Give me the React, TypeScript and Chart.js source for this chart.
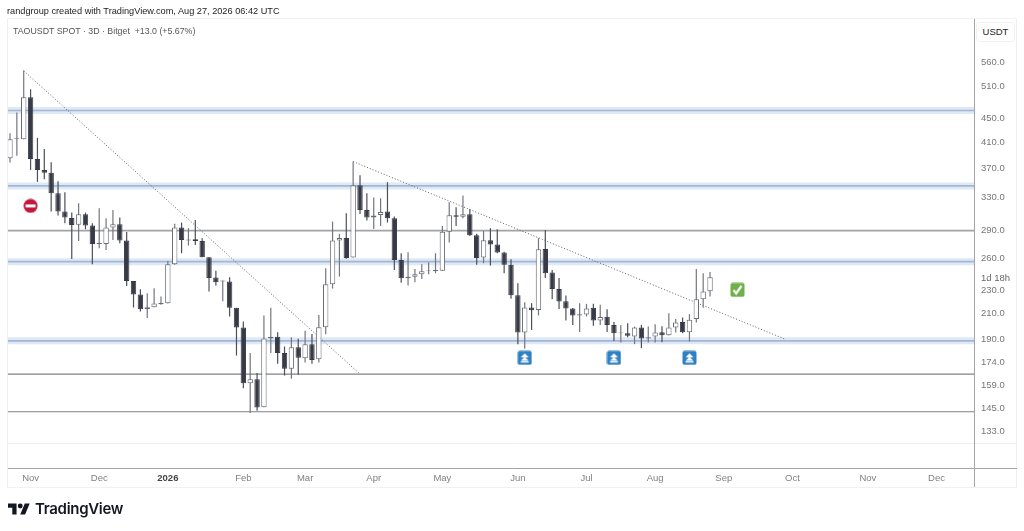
import React, { useEffect, useRef } from "react";
import { Chart, registerables } from "chart.js";

Chart.register(...registerables);

// 3-day candles, TAOUSDT
const opens = [384.9,415,414.4,488.1,383.8,367.7,363.5,335.8,312.6,305,297.1,309.4,296,275.6,275.6,293.7,297.6,279.2,238.6,226.3,213.7,215.4,217.8,218.8,254.6,293.7,279.4,280.7,278.8,261.7,241.7,238.1,238,214.8,198.9,160.2,162.7,145.9,190.7,191.9,180.1,169.4,184.3,176.6,186.5,175.9,199.2,235.6,279.4,282.1,261.4,346.4,314.6,305.4,308.6,312.6,304.6,258.9,241.1,242.6,244.9,248,248,248.3,289.1,308.2,306.4,309.4,285.1,261.3,279.6,274.9,266.4,254.2,225.7,195.1,215.1,213,270.2,246.5,231.3,220.5,214.2,208.6,209.3,214.8,204.4,207.4,201,194.5,194.6,192.1,198.9,190.7,192.1,195.4,193.1,198.9,203.2,195.4,205.6,222.2,229.2];
const closes = [414.4,416.6,488.1,383.8,367.7,363.5,335.8,312.6,305.4,296.8,309.4,296,275.6,276.7,293.7,297.6,279.2,238.6,226.3,213.7,215.4,218.5,219,254.6,293.7,279.9,280.4,278.8,261.7,241.4,237.4,239,214.8,198.9,160.2,162.7,145.7,190.6,191.9,180.1,169.4,184.3,176.8,186.5,175.4,199.2,235.6,279.4,282.1,261,346.4,314.6,305.4,307.8,312.2,304.6,258.9,241.1,242.6,244.9,247.8,248.5,249,289.1,308.2,306.4,309.4,285.1,261,279.6,274.9,266.4,254.2,225.7,195.1,215.1,212.9,269.9,245.9,231.3,220.2,214.2,208.5,209.5,214.2,204.4,207.2,201,194.6,195.2,192.6,198.9,190.6,191.5,195.1,193.1,198.9,202.9,195.4,205,222.2,228.9,242.1];
const highs = [424.3,459.7,541.4,503.5,416.6,399.1,378.9,351.8,337.1,311.4,323,311.4,298.8,316.7,304.6,314.6,305.4,288.8,238.6,231,227.5,231.9,224.5,257.9,298,299.5,293,302.6,281.8,261.7,248.3,239,242.1,214.8,203.7,180.1,166.6,208.5,214.8,195.4,184.8,191.6,190.4,196.4,194.1,209,250.7,300.6,286.6,310.6,379.8,360.2,335.8,330.1,329.3,350.5,306.6,265.8,266.8,250,254.6,256.6,265.8,295.6,324.2,318,332.7,315.5,286.6,289.9,293,291.8,267.4,259.6,236.5,219.6,218.8,281.8,291,249,241.2,225.4,214.6,218.8,218.2,218.2,217.4,213.7,203.2,201,202.4,199.7,201,199.7,201.6,200,210.4,205.6,206.9,209.6,250,245.9,247];
const lows = [378.4,388.4,414.4,367.7,350.9,354.6,312.6,307.8,298.8,259.9,278.8,291.8,254.6,271,269.2,279.9,276.4,234,215.1,211.7,206.4,215.4,217.4,218.5,254.2,265.8,273.8,274.5,261.7,228.9,234.3,220.5,207.7,178.4,157.1,142.6,143.8,145.9,180.1,172.7,165,162.9,165.5,173.6,172.7,173.6,193.9,231.6,242.6,260.2,261.4,309.8,301.8,292.2,295.6,299.5,249,237,234.3,237.4,240.4,244.9,245.9,248.3,277,295.6,304.6,284.3,254,255.6,253.3,265.8,245.9,222.5,186.5,183.1,197.1,208.5,241.2,222.2,213.9,204.4,201,195.6,207.7,200.3,201,195.6,188.7,187.7,191.6,186.5,183.6,187.7,187.7,187.9,192.8,195.1,194.6,188.4,202.9,215,224.5];

const priceTicks = [560, 510, 450, 410, 370, 330, 290, 260, 230, 210, 190, 174, 159, 145, 133];
const timeTickIndex = [3, 13, 23, 34, 43, 53, 63, 74, 84, 94, 104, 114, 125, 135];
const timeTickLabels = ["Nov", "Dec", "2026", "Feb", "Mar", "Apr", "May", "Jun", "Jul", "Aug", "Sep", "Oct", "Nov", "Dec"];

const zoneLevels = [463.6, 345.5, 257.2, 188.9];
const plainLevels = [290.2, 165.9, 143.3];
const trendFrom = [[2, 541], [50, 379.8]];
const trendTo = [[51, 166], [113, 190]];

const iconIndex = [3, 75, 88, 99, 106];
const iconPrice = [319.6, 176.8, 176.8, 176.8, 230.4];
const iconKind = ["stop", "up", "up", "up", "check"];

const X_MIN = -0.29;
const X_MAX = 140.46;
const Y_MIN = 115.1;
const Y_MAX = 662;

const FONT = '"Liberation Sans", Arial, sans-serif';
const DARK = "#383b47";
const UP_LINE = "#696b73";
const WICK_DOWN = "#4c4f59";
const WICK_UP = "#74767e";

function makeIcon(kind: string): HTMLCanvasElement {
  const c = document.createElement("canvas");
  c.width = 15;
  c.height = 15;
  const g = c.getContext("2d")!;
  const rr = (x: number, y: number, w: number, h: number, r: number) => {
    g.beginPath();
    g.roundRect(x, y, w, h, r);
    g.fill();
  };
  if (kind === "stop") {
    g.fillStyle = "#c4173a";
    g.beginPath();
    g.arc(7.5, 7.5, 7, 0, Math.PI * 2);
    g.fill();
    g.fillStyle = "#ffffff";
    rr(2.5, 6, 10, 3, 0.5);
  } else if (kind === "up") {
    g.fillStyle = "#2f80c2";
    rr(0.5, 0.5, 14, 14, 2);
    g.fillStyle = "#ffffff";
    const tri = (top: number) => {
      g.beginPath();
      g.moveTo(7.5, top);
      g.lineTo(11.5, top + 4);
      g.lineTo(3.5, top + 4);
      g.closePath();
      g.fill();
    };
    tri(3);
    tri(6.5);
    g.fillRect(3.5, 11, 8, 1.2);
  } else {
    g.fillStyle = "#6fb04a";
    rr(0.5, 0.5, 14, 14, 2);
    g.strokeStyle = "#ffffff";
    g.lineWidth = 2.2;
    g.beginPath();
    g.moveTo(3.5, 7.8);
    g.lineTo(6.2, 11);
    g.lineTo(11.5, 3.5);
    g.stroke();
  }
  return c;
}

const framePlugin = {
  id: "frame",
  beforeDraw(chart: any) {
    const g = chart.ctx;
    const a = chart.chartArea;
    g.save();
    g.fillStyle = "#ffffff";
    g.fillRect(0, 0, chart.width, chart.height);
    g.lineWidth = 1;
    g.strokeStyle = "#f1f1f3";
    g.strokeRect(a.left - 0.5, a.top - 0.5, 1017 - a.left, 487 - a.top + 1);
    g.strokeStyle = "#eeeef0";
    g.beginPath();
    g.moveTo(a.left, 443.5);
    g.lineTo(1017, 443.5);
    g.stroke();
    g.restore();
  },
  afterDatasetsDraw(chart: any) {
    const g = chart.ctx;
    const a = chart.chartArea;
    g.save();
    g.lineWidth = 1;
    g.strokeStyle = "#a3a4a8";
    g.beginPath();
    g.moveTo(a.right + 0.5, a.top);
    g.lineTo(a.right + 0.5, 487);
    g.moveTo(a.left, a.bottom + 0.5);
    g.lineTo(1017, a.bottom + 0.5);
    g.stroke();
    g.restore();
  },
};

const textStyle = (x: number, y: number, size: number, color: string): React.CSSProperties => ({
  position: "absolute",
  left: x,
  top: y,
  fontFamily: FONT,
  fontSize: size,
  lineHeight: "14px",
  color,
  whiteSpace: "pre",
});

export default function App() {
  const ref = useRef<HTMLCanvasElement>(null);
  useEffect(() => {
    const icons: Record<string, HTMLCanvasElement> = {
      stop: makeIcon("stop"),
      up: makeIcon("up"),
      check: makeIcon("check"),
    };
    const isUp = (i: number) => closes[i] >= opens[i];
    const levelLine = (v: number) => [
      { x: X_MIN, y: v },
      { x: X_MAX, y: v },
    ];
    const line = (data: any[], color: string, width: number, order: number, dash: number[] = []) => ({
      type: "line",
      data,
      borderColor: color,
      borderWidth: width,
      borderDash: dash,
      pointRadius: 0,
      order,
    });
    const chart = new Chart(ref.current!, {
      type: "bar",
      data: {
        datasets: [
          ...zoneLevels.map((v) => line(levelLine(v), "#dee9f8", 7, 20)),
          ...zoneLevels.map((v) => line(levelLine(v), "#a6b6cf", 1.6, 19)),
          ...plainLevels.map((v, k) => line(levelLine(v), k === 0 ? "#a2a3a6" : "#808185", k === 0 ? 1.8 : 1.1, 18)),
          ...trendFrom.map((p, k) =>
            line(
              [
                { x: p[0], y: p[1] },
                { x: trendTo[k][0], y: trendTo[k][1] },
              ],
              "#5f6066",
              1,
              17,
              [1, 2],
            ),
          ),
          {
            type: "bar",
            data: highs.map((h, i) => ({ x: i, y: [lows[i], h] })),
            backgroundColor: highs.map((_, i) => (isUp(i) ? WICK_UP : WICK_DOWN)),
            borderWidth: 0,
            barThickness: 1.2,
            grouped: false,
            inflateAmount: 0,
            order: 5,
          },
          {
            type: "bar",
            data: opens.map((o, i) => ({ x: i, y: [o, closes[i]] })),
            backgroundColor: opens.map((_, i) => (isUp(i) ? "#ffffff" : DARK)),
            borderColor: opens.map((_, i) => (isUp(i) ? UP_LINE : DARK)),
            borderWidth: 1,
            borderSkipped: false,
            barThickness: 5.4,
            grouped: false,
            inflateAmount: 0,
            order: 4,
          },
          {
            type: "line",
            data: iconIndex.map((x, i) => ({ x, y: iconPrice[i] })),
            showLine: false,
            pointRadius: 7,
            pointStyle: iconKind.map((k) => icons[k]),
            order: 1,
          },
        ] as any,
      },
      options: {
        responsive: false,
        animation: false,
        devicePixelRatio: 1,
        layout: { padding: { left: 8, top: 19, right: 7, bottom: 44 } },
        plugins: { legend: { display: false }, tooltip: { enabled: false } },
        scales: {
          x: {
            type: "linear",
            offset: false,
            min: X_MIN,
            max: X_MAX,
            grid: { display: false, drawTicks: false, offset: false },
            border: { display: false },
            afterFit: (s: any) => {
              s.height = 19;
            },
            afterBuildTicks: (s: any) => {
              s.ticks = timeTickIndex.map((value) => ({ value }));
            },
            ticks: {
              autoSkip: false,
              maxRotation: 0,
              padding: 5,
              callback: (v: any) => timeTickLabels[timeTickIndex.indexOf(Number(v))],
              color: (c: any) => (c.tick && c.tick.value === 23 ? "#444" : "#808080"),
              font: (c: any) => ({
                family: FONT,
                size: 9.5,
                weight: c.tick && c.tick.value === 23 ? "bold" : "normal",
              }),
            },
          },
          y: {
            type: "logarithmic",
            position: "right",
            min: Y_MIN,
            max: Y_MAX,
            bounds: "data",
            grid: { display: false, drawTicks: false },
            border: { display: false },
            afterFit: (s: any) => {
              s.width = 43;
            },
            afterBuildTicks: (s: any) => {
              s.ticks = priceTicks.map((value) => ({ value }));
            },
            ticks: {
              autoSkip: false,
              padding: 7,
              color: "#777",
              font: { family: FONT, size: 9.5 },
              callback: (v: any) => Number(v).toFixed(1),
            },
          },
        },
      } as any,
      plugins: [framePlugin] as any,
    });
    return () => chart.destroy();
  }, []);

  return (
    <div style={{ position: "fixed", left: 0, top: 0, width: 1024, height: 531, overflow: "hidden", background: "#fff" }}>
      <canvas ref={ref} width={1024} height={531} style={{ position: "absolute", left: 0, top: 0, width: 1024, height: 531 }} />
      <div style={textStyle(7, 4, 9.2, "#222")}>randgroup created with TradingView.com, Aug 27, 2026 06:42 UTC</div>
      <div style={textStyle(13, 23.5, 8.8, "#555")}>TAOUSDT SPOT · 3D · Bitget  +13.0 (+5.67%)</div>
      <div
        style={{
          ...textStyle(976, 22, 9.5, "#222"),
          width: 37,
          height: 18,
          lineHeight: "18px",
          textAlign: "center",
          border: "1px solid #f1f1f3",
          borderRadius: 3,
          background: "#fff",
        }}
      >
        USDT
      </div>
      <div style={textStyle(981, 271, 9.5, "#666")}>1d 18h</div>
      <svg style={{ position: "absolute", left: 8, top: 502 }} width="22" height="14" viewBox="0 3 36 20" fill="#131722">
        <path d="M14 22H7V11H0V4h14v18zM28 22h-8l7.5-18h8L28 22z" />
        <circle cx="20" cy="8" r="4" />
      </svg>
      <div style={{ ...textStyle(35, 500, 15, "#131722"), fontFamily: "Inter, sans-serif", fontWeight: 600, lineHeight: "18px", letterSpacing: -0.3 }}>
        TradingView
      </div>
    </div>
  );
}
